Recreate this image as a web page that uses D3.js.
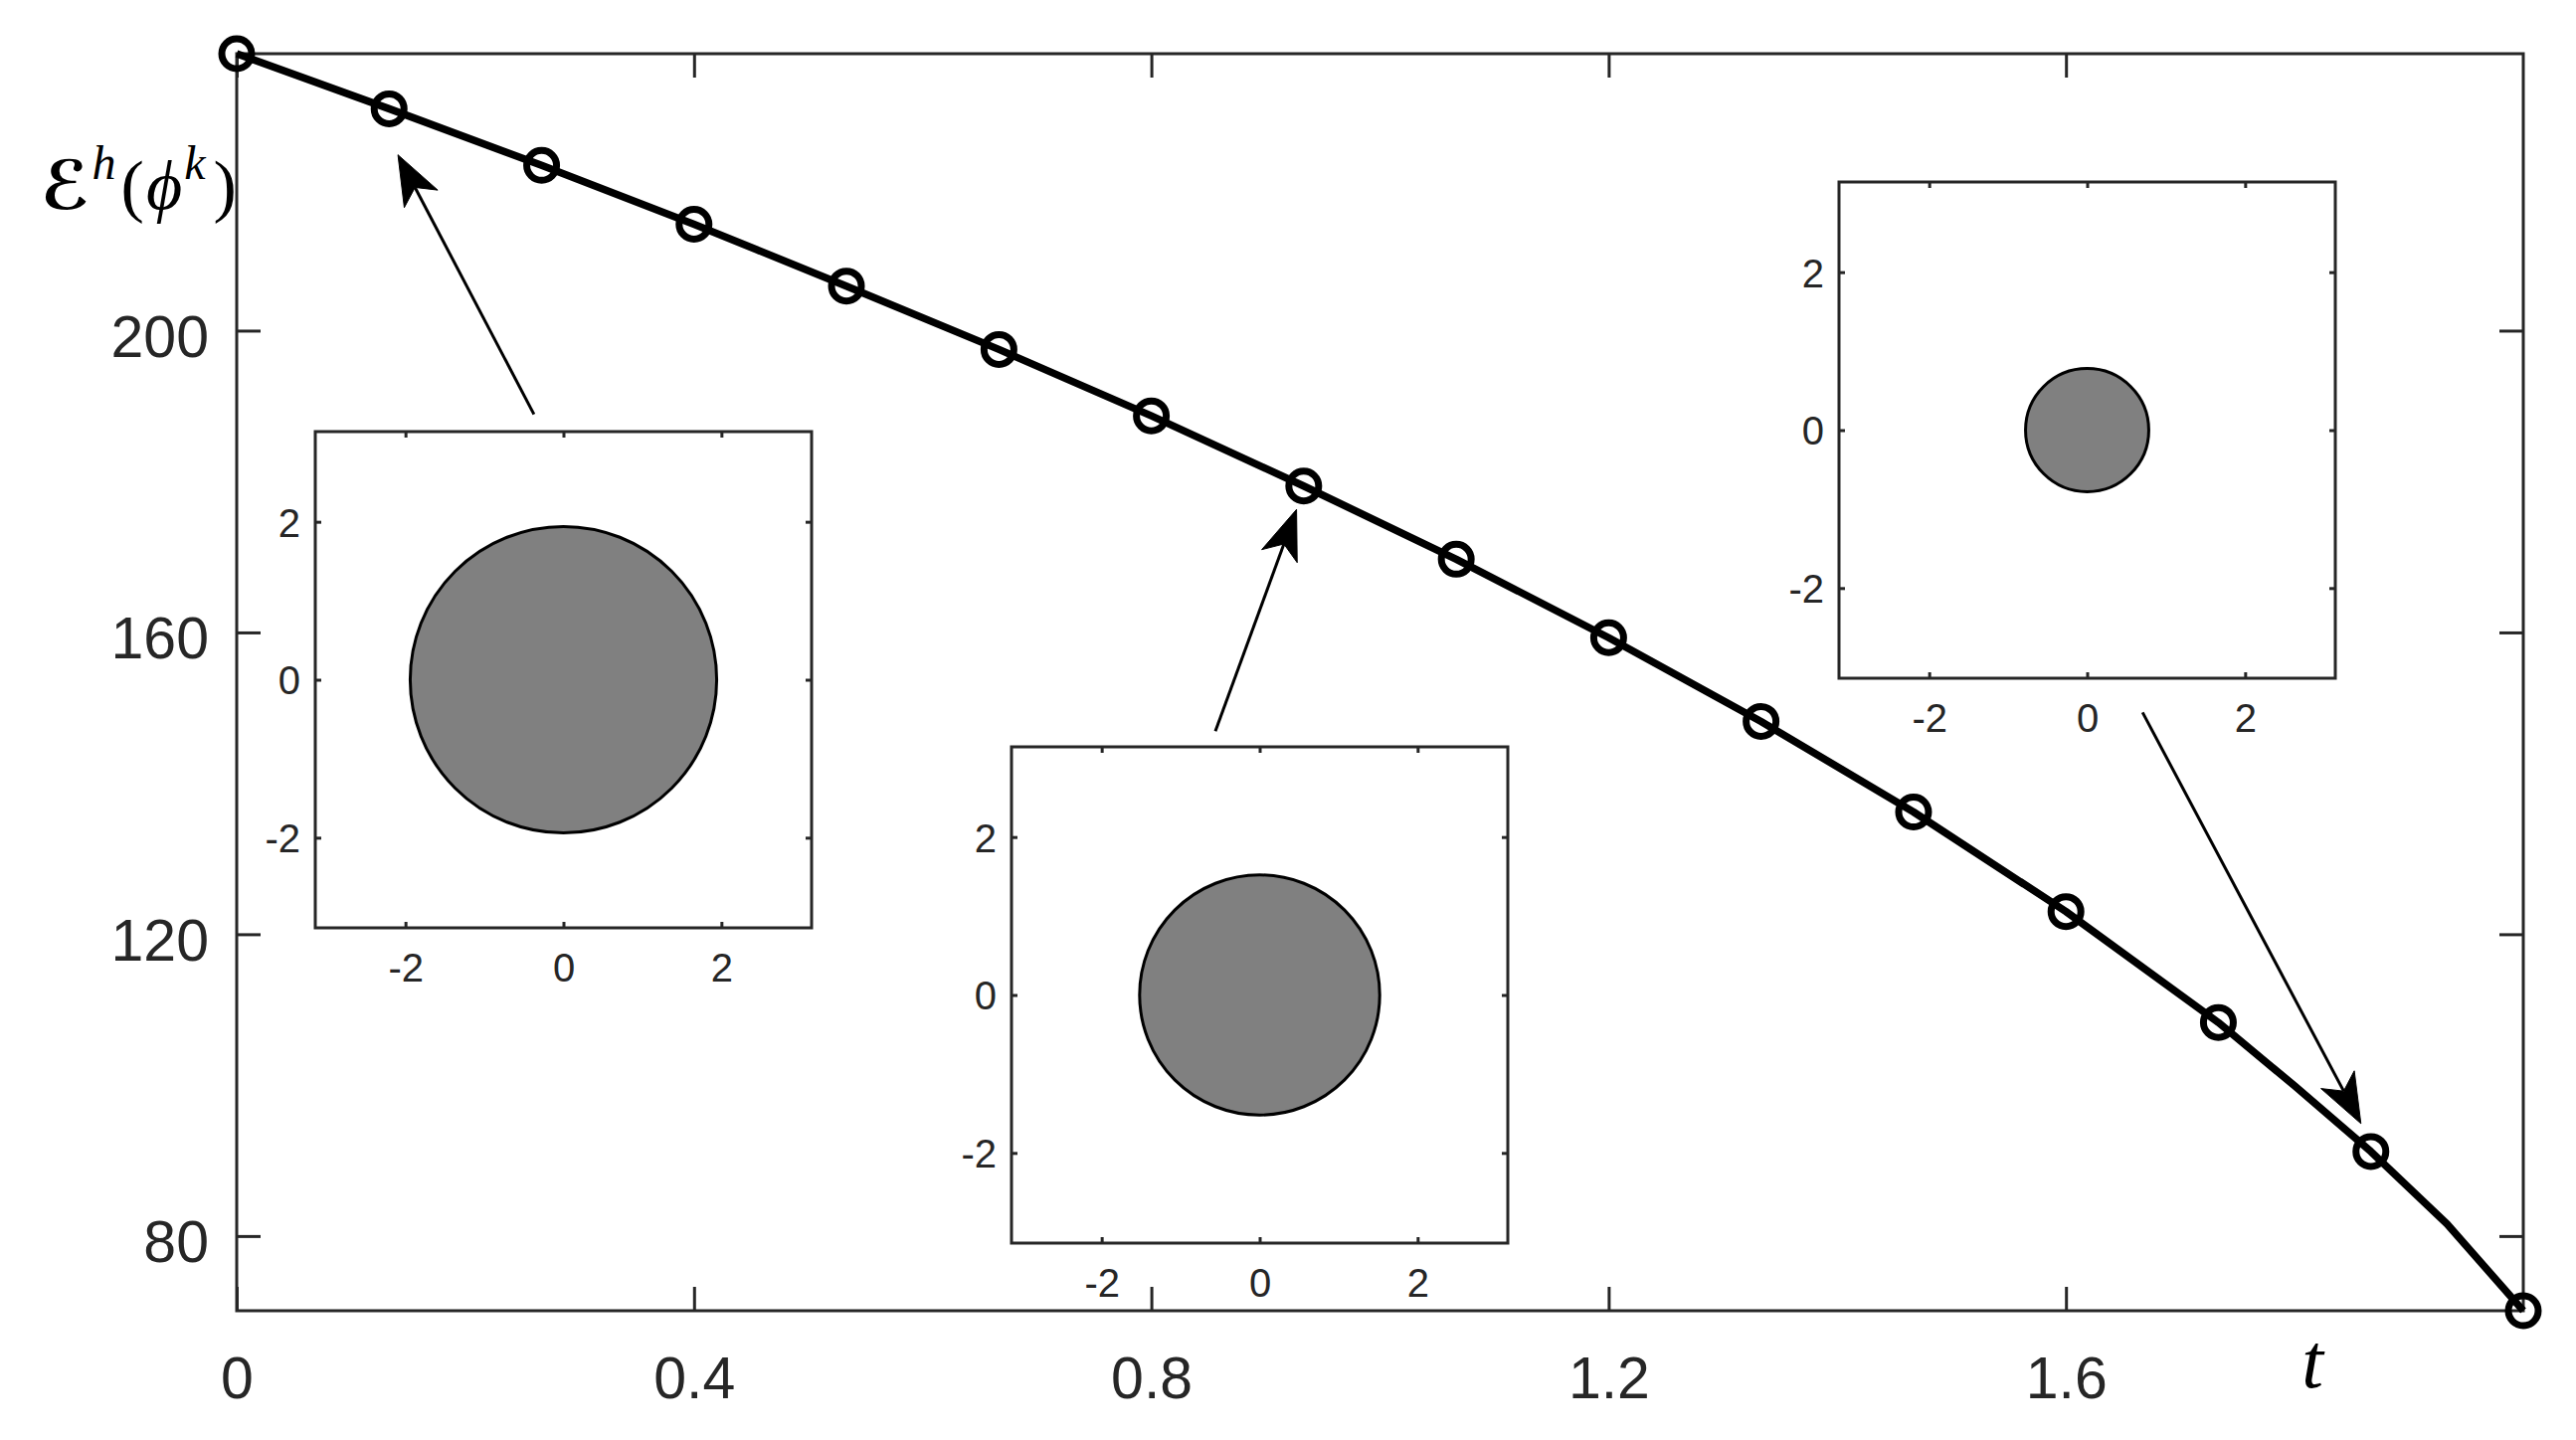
<!DOCTYPE html>
<html><head><meta charset="utf-8">
<script src="https://cdn.jsdelivr.net/npm/d3@7"></script>
<style>html,body{margin:0;padding:0;background:#fff;} svg{display:block}</style>
</head><body>
<svg id="chart" width="2590" height="1448"></svg>
<script>
// ---- data ----
const timeValues   = [0, 0.1333, 0.2667, 0.4, 0.5333, 0.6667, 0.8, 0.9333, 1.0667, 1.2, 1.3333, 1.4667, 1.6, 1.7333, 1.8667, 2.0];
const energyValues = [236.7, 229.4, 221.9, 214.1, 205.9, 197.5, 188.7, 179.4, 169.7, 159.3, 148.2, 136.2, 123.0, 108.3, 91.2, 70.1];
// line vertices (markers plus two extra visible vertices)
const lineTimes    = [0, 0.1333, 0.2667, 0.4, 0.5333, 0.6667, 0.8, 0.9333, 1.0667, 1.2, 1.3333, 1.4667, 1.6, 1.7333, 1.8, 1.8667, 1.9333, 2.0];
const lineEnergies = [236.7, 229.4, 221.9, 214.1, 205.9, 197.5, 188.7, 179.4, 169.7, 159.3, 148.2, 136.2, 123.0, 108.3, 99.9, 91.2, 81.6, 70.1];
const xTicks = [0, 0.4, 0.8, 1.2, 1.6];
const yTicks = [80, 120, 160, 200];
const insetTicks = [-2, 0, 2];
const insetRadii = [1.94, 1.52, 0.78];
// annotation arrows in main-axis data coordinates: [t, E]
const arrowFrom = [[0.260, 188.9], [0.856, 146.9], [1.667, 149.4]];
const arrowTo   = [[0.141, 223.3], [0.927, 176.3], [1.858, 94.9]];

// ---- layout ----
const W = 2590, H = 1448;
const plot = {left: 238, right: 2537, top: 54, bottom: 1318};
const insetBoxes = [{x: 317, y: 434}, {x: 1017, y: 751}, {x: 1849, y: 183}];
const insetSize = 499;
const axisColor = "#262626";
const plainFmt = d => String(d);

const svg = d3.select("#chart");
svg.append("rect").attr("width", W).attr("height", H).attr("fill", "#fff");

const x = d3.scaleLinear().domain([0, 2]).range([plot.left, plot.right]);
const y = d3.scaleLinear().domain(d3.extent(energyValues)).range([plot.bottom, plot.top]);

function styleAxis(g, fontSize) {
  g.select(".domain").remove();
  g.selectAll(".tick line").attr("stroke", axisColor).attr("stroke-width", 3);
  g.selectAll(".tick text").attr("fill", axisColor).attr("font-size", fontSize)
    .attr("font-family", "'Liberation Sans', Arial, Helvetica, sans-serif");
}

// main axes
const gx = svg.append("g").attr("transform", `translate(0,${plot.bottom})`)
  .call(d3.axisBottom(x).tickValues(xTicks).tickFormat(plainFmt).tickSizeInner(-24).tickSizeOuter(0).tickPadding(46));
styleAxis(gx, 59);
const gxt = svg.append("g").attr("transform", `translate(0,${plot.top})`)
  .call(d3.axisTop(x).tickValues(xTicks).tickFormat("").tickSizeInner(-24).tickSizeOuter(0));
styleAxis(gxt, 59);
const gy = svg.append("g").attr("transform", `translate(${plot.left},0)`)
  .call(d3.axisLeft(y).tickValues(yTicks).tickFormat(plainFmt).tickSizeInner(-24).tickSizeOuter(0).tickPadding(28));
styleAxis(gy, 59);
gy.selectAll(".tick text").attr("dy", "0.44em");
const gyr = svg.append("g").attr("transform", `translate(${plot.right},0)`)
  .call(d3.axisRight(y).tickValues(yTicks).tickFormat("").tickSizeInner(-24).tickSizeOuter(0));
styleAxis(gyr, 59);

svg.append("rect").attr("x", plot.left).attr("y", plot.top)
  .attr("width", plot.right - plot.left).attr("height", plot.bottom - plot.top)
  .attr("fill", "none").attr("stroke", axisColor).attr("stroke-width", 3);

// energy line
const lineData = lineTimes.map((t, i) => [t, lineEnergies[i]]);
svg.append("path").datum(lineData)
  .attr("d", d3.line().x(d => x(d[0])).y(d => y(d[1])))
  .attr("fill", "none").attr("stroke", "#000").attr("stroke-width", 7.5).attr("stroke-linejoin", "round");

// markers
svg.append("g").selectAll("circle").data(timeValues.map((t, i) => [t, energyValues[i]]))
  .join("circle")
  .attr("cx", d => x(d[0])).attr("cy", d => y(d[1])).attr("r", 15)
  .attr("fill", "none").attr("stroke", "#000").attr("stroke-width", 7);

// arrows
arrowFrom.forEach((from, i) => {
  const to = arrowTo[i];
  const x0 = x(from[0]), y0 = y(from[1]), x1 = x(to[0]), y1 = y(to[1]);
  const dx = x1 - x0, dy = y1 - y0, len = Math.hypot(dx, dy);
  const ux = dx / len, uy = dy / len, px = -uy, py = ux;
  const L = 50, Wd = 19, N = 37;
  const nx = x1 - ux * N, ny = y1 - uy * N;
  svg.append("line").attr("x1", x0).attr("y1", y0).attr("x2", nx).attr("y2", ny)
    .attr("stroke", "#000").attr("stroke-width", 3);
  const head = [
    [x1, y1],
    [x1 - ux * L + px * Wd, y1 - uy * L + py * Wd],
    [nx, ny],
    [x1 - ux * L - px * Wd, y1 - uy * L - py * Wd]
  ];
  svg.append("path").attr("d", "M" + head.map(p => p.join(",")).join("L") + "Z")
    .attr("fill", "#000").attr("stroke", "#000").attr("stroke-width", 1);
});

// insets
insetBoxes.forEach((box, i) => {
  const xi = d3.scaleLinear().domain([-Math.PI, Math.PI]).range([box.x, box.x + insetSize]);
  const yi = d3.scaleLinear().domain([-Math.PI, Math.PI]).range([box.y + insetSize, box.y]);
  const g = svg.append("g");
  g.append("rect").attr("x", box.x).attr("y", box.y).attr("width", insetSize).attr("height", insetSize)
    .attr("fill", "#fff");
  g.append("circle").attr("cx", xi(0)).attr("cy", yi(0)).attr("r", xi(insetRadii[i]) - xi(0))
    .attr("fill", "#808080").attr("stroke", "#000").attr("stroke-width", 3);
  const ax1 = g.append("g").attr("transform", `translate(0,${box.y + insetSize})`)
    .call(d3.axisBottom(xi).tickValues(insetTicks).tickFormat(plainFmt).tickSizeInner(-6).tickSizeOuter(0).tickPadding(26));
  styleAxis(ax1, 40);
  const ax2 = g.append("g").attr("transform", `translate(0,${box.y})`)
    .call(d3.axisTop(xi).tickValues(insetTicks).tickFormat("").tickSizeInner(-6).tickSizeOuter(0));
  styleAxis(ax2, 40);
  const ay1 = g.append("g").attr("transform", `translate(${box.x},0)`)
    .call(d3.axisLeft(yi).tickValues(insetTicks).tickFormat(plainFmt).tickSizeInner(-6).tickSizeOuter(0).tickPadding(15));
  styleAxis(ay1, 40);
  ay1.selectAll(".tick text").attr("dy", "0.36em");
  const ay2 = g.append("g").attr("transform", `translate(${box.x + insetSize},0)`)
    .call(d3.axisRight(yi).tickValues(insetTicks).tickFormat("").tickSizeInner(-6).tickSizeOuter(0));
  styleAxis(ay2, 40);
  g.append("rect").attr("x", box.x).attr("y", box.y).attr("width", insetSize).attr("height", insetSize)
    .attr("fill", "none").attr("stroke", axisColor).attr("stroke-width", 3);
});

// axis labels
const ylab = svg.append("text").attr("x", 41).attr("y", 210)
  .attr("font-family", "'Liberation Serif', 'DejaVu Serif', serif").attr("font-size", 70).attr("fill", "#000");
ylab.append("tspan").attr("font-family", "'DejaVu Serif', 'DejaVu Sans', serif").attr("font-style", "italic")
  .attr("font-weight", "bold").attr("font-size", 68).text("ℰ");
ylab.append("tspan").attr("font-style", "italic").attr("font-size", 48).attr("dy", -30).attr("dx", 2).text("h");
ylab.append("tspan").attr("dy", 30).attr("dx", 5).text("(");
ylab.append("tspan").attr("font-style", "italic").attr("dx", 2).text("ϕ");
ylab.append("tspan").attr("font-style", "italic").attr("font-size", 48).attr("dy", -30).attr("dx", 2).text("k");
ylab.append("tspan").attr("dy", 30).attr("dx", 8).text(")");

svg.append("text").attr("x", 2325).attr("y", 1395).attr("text-anchor", "middle")
  .attr("font-family", "'Liberation Serif', 'DejaVu Serif', serif").attr("font-style", "italic")
  .attr("font-size", 78).attr("fill", "#000").text("t");
</script>
</body></html>
